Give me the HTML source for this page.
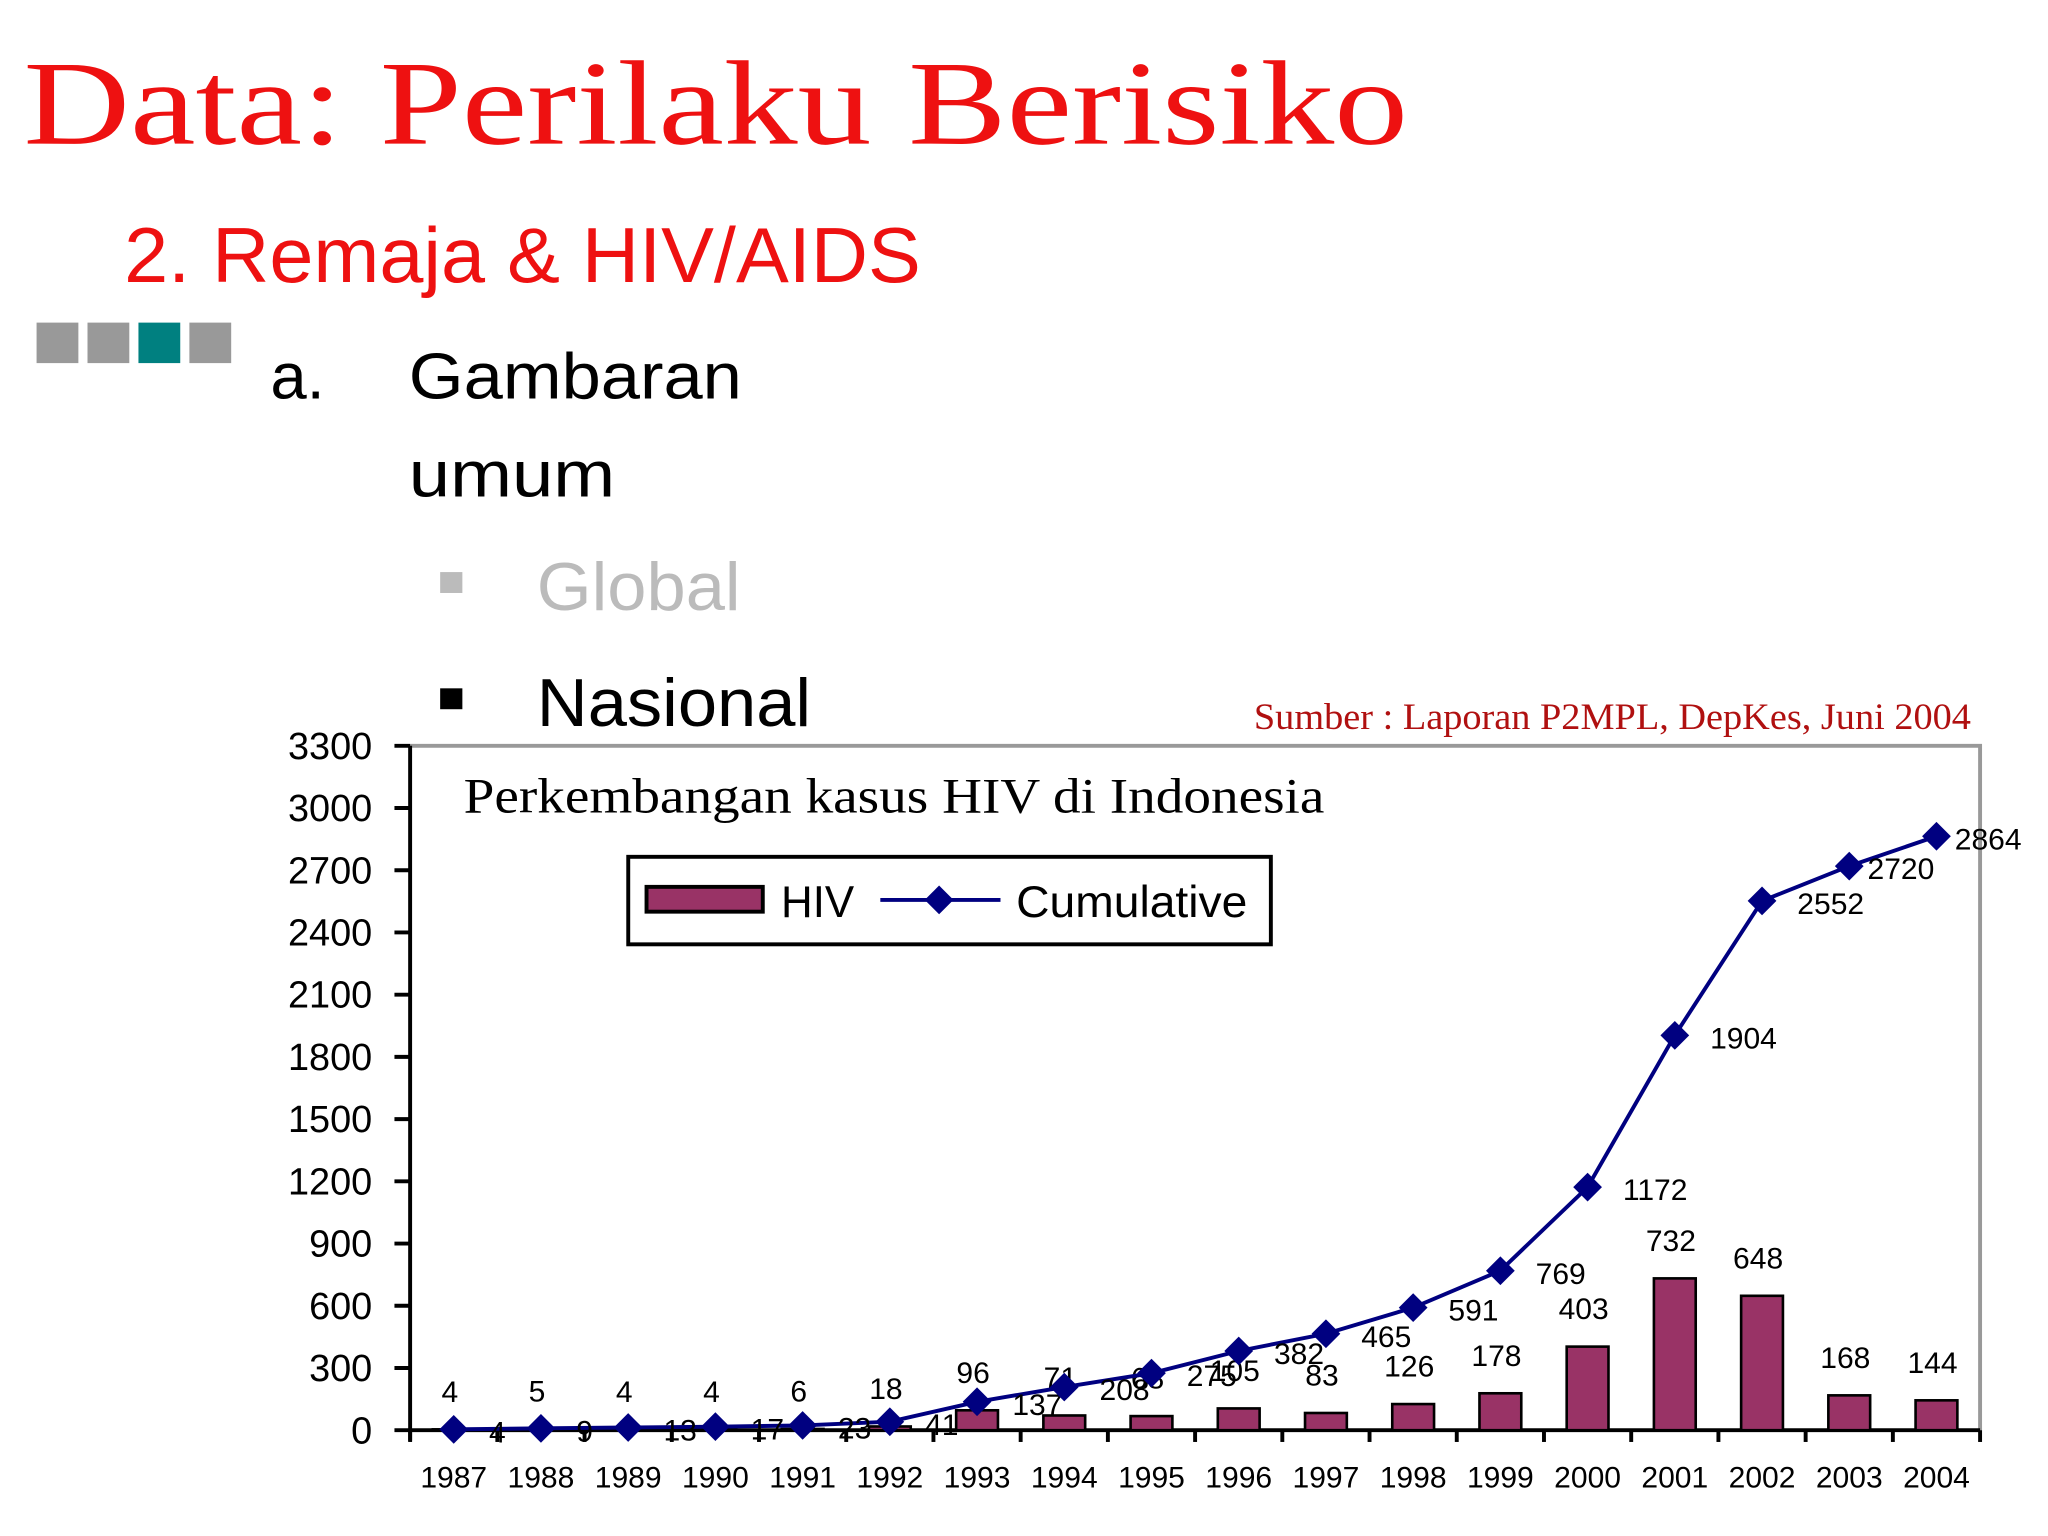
<!DOCTYPE html>
<html><head><meta charset="utf-8"><style>html,body{margin:0;padding:0;background:#fff}svg{display:block}</style></head>
<body>
<svg id="page" width="2048" height="1536" viewBox="0 0 1568 1176" xmlns="http://www.w3.org/2000/svg">
<rect width="1568" height="1176" fill="#fff"/>
<text x="18" y="110" font-family="Liberation Serif, serif" font-size="92" fill="#ee1111" textLength="1060" lengthAdjust="spacingAndGlyphs">Data: Perilaku Berisiko</text>
<text x="95" y="216" font-family="Liberation Sans, sans-serif" font-size="60" fill="#ee1111" textLength="610" lengthAdjust="spacingAndGlyphs">2. Remaja &amp; HIV/AIDS</text>
<g>
<rect x="28" y="247" width="32" height="31" fill="#999"/><rect x="67" y="247" width="32" height="31" fill="#999"/><rect x="106" y="247" width="32" height="31" fill="#008080"/><rect x="145" y="247" width="32" height="31" fill="#999"/>
</g>
<text x="207" y="305" font-family="Liberation Sans, sans-serif" font-size="50">a.</text>
<text x="313" y="305" font-family="Liberation Sans, sans-serif" font-size="50" textLength="255" lengthAdjust="spacingAndGlyphs">Gambaran</text>
<text x="313" y="380" font-family="Liberation Sans, sans-serif" font-size="50" textLength="158" lengthAdjust="spacingAndGlyphs">umum</text>
<rect x="337" y="438" width="17" height="16" fill="#bbb"/>
<text x="411" y="467" font-family="Liberation Sans, sans-serif" font-size="52" fill="#bbb" textLength="156" lengthAdjust="spacingAndGlyphs">Global</text>
<rect x="337" y="527" width="17" height="16" fill="#000"/>
<text x="411" y="556" font-family="Liberation Sans, sans-serif" font-size="52" textLength="210" lengthAdjust="spacingAndGlyphs">Nasional</text>
<text x="960" y="558" font-family="Liberation Serif, serif" font-size="28" fill="#b01010" textLength="549" lengthAdjust="spacingAndGlyphs">Sumber : Laporan P2MPL, DepKes, Juni 2004</text>
<g id="chart"></g>
<text x="355" y="622" font-family="Liberation Serif, serif" font-size="38" textLength="659" lengthAdjust="spacingAndGlyphs">Perkembangan kasus HIV di Indonesia</text>
<g>
<rect x="481" y="656" width="492" height="67" fill="#fff" stroke="#000" stroke-width="3"/>
<rect x="495" y="679" width="89" height="19" fill="#993366" stroke="#000" stroke-width="3"/>
<text x="598" y="702" font-family="Liberation Sans, sans-serif" font-size="34" textLength="56" lengthAdjust="spacingAndGlyphs">HIV</text>
<line x1="674" y1="689" x2="766" y2="689" stroke="#000080" stroke-width="3"/>
<polygon points="719,678 730,689 719,700 708,689" fill="#000080"/>
<text x="778" y="702" font-family="Liberation Sans, sans-serif" font-size="34" textLength="177" lengthAdjust="spacingAndGlyphs">Cumulative</text>
</g>
</svg>
<script>
const years = ["1987","1988","1989","1990","1991","1992","1993","1994","1995","1996","1997","1998","1999","2000","2001","2002","2003","2004"];
const hivValues = [4,5,4,4,6,18,96,71,68,105,83,126,178,403,732,648,168,144];
const hivLabels = ["4","5","4","4","6","18","96","71","68","105","83","126","178","403","732","648","168","144"];
const cumValues = [4,9,13,17,23,41,137,208,275,382,465,591,769,1172,1904,2552,2720,2864];
const cumLabels = ["4","9","13","17","23","41","137","208","275","382","465","591","769","1172","1904","2552","2720","2864"];
const yTicks = [0,300,600,900,1200,1500,1800,2100,2400,2700,3000,3300];

const NS="http://www.w3.org/2000/svg";
const g=document.getElementById('chart');
const X0=314,X1=1516,Y0=1095,Y1=571,YMAX=3300;
const bw=(X1-X0)/years.length;
function xc(i){return X0+bw*(i+0.5);}
function y(v){return Y0-(v/YMAX)*(Y0-Y1);}
function mk(tag,attrs,txt){const e=document.createElementNS(NS,tag);for(const k in attrs)e.setAttribute(k,attrs[k]);if(txt!==undefined)e.textContent=txt;g.appendChild(e);return e;}
const F="Liberation Sans, sans-serif";
let e=mk('polyline',{points:`${X0},${Y1} ${X1},${Y1} ${X1},${Y0}`,fill:'none',stroke:'#999',"stroke-width":3});


e=mk('line',{x1:X0,y1:Y1,x2:X0,y2:Y0+8,stroke:'#000',"stroke-width":3});


e=mk('line',{x1:X0,y1:Y0,x2:X1,y2:Y0,stroke:'#000',"stroke-width":3});


yTicks.forEach(v=>{
  let t=mk('line',{x1:X0-12,y1:y(v),x2:X0,y2:y(v),stroke:'#000',"stroke-width":3});
  
  
  let l=mk('text',{x:285,y:y(v)+10,"text-anchor":"end","font-family":F,"font-size":29},String(v));
  
  
});
for(let i=0;i<=years.length;i++){
  let t=mk('line',{x1:X0+bw*i,y1:Y0,x2:X0+bw*i,y2:Y0+9,stroke:'#000',"stroke-width":3});
  
  
}
years.forEach((yr,i)=>{
  let l=mk('text',{x:xc(i),y:1139,"text-anchor":"middle","font-family":F,"font-size":23},yr);
  
  
});
hivValues.forEach((v,i)=>{
  const top=y(v);
  let b=mk('rect',{x:xc(i)-16,y:top,width:32,height:Y0-top,fill:'#993366',stroke:'#000',"stroke-width":2});
  
  
  let l=mk('text',{x:xc(i)-3,y:top-21,"text-anchor":"middle","font-family":F,"font-size":23},hivLabels[i]);
  
  
});
let line=mk('polyline',{points:cumValues.map((v,i)=>`${xc(i)},${y(v)}`).join(' '),fill:'none',stroke:'#000080',"stroke-width":3});


cumValues.forEach((v,i)=>{
  const cx=xc(i),cy=y(v);
  let p=mk('polygon',{points:`${cx},${cy-11} ${cx+11},${cy} ${cx},${cy+11} ${cx-11},${cy}`,fill:'#000080'});
  
  
  const off = v>2600 ? 14 : 27;
  let l=mk('text',{x:cx+off,y:cy+10,"font-family":F,"font-size":23},cumLabels[i]);
  
  
});
</script>
</body></html>
